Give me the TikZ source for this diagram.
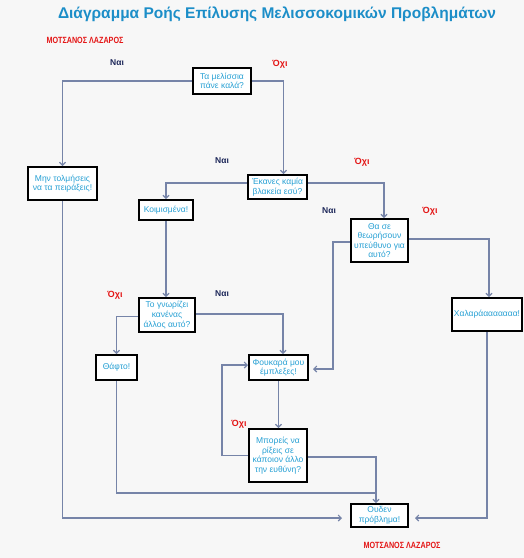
\documentclass[tikz,border=0pt]{standalone}
\usepackage{fontspec}
\setmainfont{Liberation Sans}
\usetikzlibrary{arrows.meta,positioning}
\definecolor{titlos}{RGB}{28,142,200}
\definecolor{keimeno}{RGB}{38,160,212}
\definecolor{grammi}{RGB}{118,132,168}
\definecolor{naixr}{RGB}{30,40,90}
\definecolor{oxixr}{RGB}{228,22,22}
\definecolor{fonto}{RGB}{247,247,247}
\tikzset{
  kouti/.style={draw,line width=2pt,fill=white,inner sep=1pt,align=center,
    font=\fontsize{8.5}{9.6}\selectfont,text=keimeno},
  belos/.style={draw=grammi,line width=1.1pt,-{Straight Barb[length=3pt,width=6pt]}},
  grm/.style={draw=grammi,line width=1.1pt},
  nai/.style={font=\bfseries\fontsize{8.5}{9}\selectfont,text=naixr},
  oxi/.style={font=\bfseries\fontsize{9}{10}\selectfont,text=oxixr},
  onoma/.style={font=\bfseries\fontsize{9}{10}\selectfont,text=oxixr},
}

\begin{document}
\begin{tikzpicture}[x=1pt,y=-1pt]
  \fill[fonto] (0,0) rectangle (524,558);
  \useasboundingbox (0,0) rectangle (524,558);
  % titlos kai onomata
  \node[font=\bfseries\fontsize{15.5}{17}\selectfont,text=titlos] (titl) at (277,14)
    {Διάγραμμα Ροής Επίλυσης Μελισσοκομικών Προβλημάτων};
  \node[onoma] (onA) at (85,40) {\scalebox{0.8}[1]{ΜΟΤΣΑΝΟΣ ΛΑΖΑΡΟΣ}};
  \node[onoma] (onB) at (402,545) {\scalebox{0.8}[1]{ΜΟΤΣΑΝΟΣ ΛΑΖΑΡΟΣ}};
  % kouti
  \node[kouti,minimum width=58pt,minimum height=26pt] (q1) at (222,81) {Τα μελίσσια\\πάνε καλά?};
  \node[kouti,minimum width=69pt,minimum height=33pt] (m) at (62.5,183.5) {Μην τολμήσεις\\να τα πειράξεις!};
  \node[kouti,minimum width=59pt,minimum height=24pt] (q2) at (277.5,187) {Έκανες καμία\\βλακεία εσύ?};
  \node[kouti,minimum width=54pt,minimum height=20pt] (k) at (166,210) {Κοιμισμένα!};
  \node[kouti,minimum width=57pt,minimum height=43pt] (q3) at (379.5,240.5) {Θα σε\\θεωρήσουν\\υπεύθυνο για\\αυτό?};
  \node[kouti,minimum width=56pt,minimum height=34pt] (q4) at (167,315) {Το γνωρίζει\\κανένας\\άλλος αυτό?};
  \node[kouti,minimum width=70pt,minimum height=33pt] (x) at (487,314.5) {Χαλαράααααααα!};
  \node[kouti,minimum width=41pt,minimum height=25pt] (th) at (116.5,367.5) {Θάφτο!};
  \node[kouti,minimum width=59pt,minimum height=25pt] (f) at (278.5,367.5) {Φουκαρά μου\\έμπλεξες!};
  \node[kouti,minimum width=58pt,minimum height=53pt] (q5) at (278,455.5) {Μπορείς να\\ρίξεις σε\\κάποιον άλλο\\την ευθύνη?};
  \node[kouti,minimum width=57pt,minimum height=23pt] (o) at (379.5,515.5) {Ουδεν\\πρόβλημα!};
  % etiketes
  \node[nai] (n1) at (117,63) {Ναι};
  \node[oxi] (x1) at (280,64) {Όχι};
  \node[nai] (n2) at (222,161) {Ναι};
  \node[oxi] (x2) at (362,162) {Όχι};
  \node[nai] (n3) at (329,211) {Ναι};
  \node[oxi] (x3) at (430,211) {Όχι};
  \node[oxi] (x4) at (115,295) {Όχι};
  \node[nai] (n4) at (222,294) {Ναι};
  \node[oxi] (x5) at (239,424) {Όχι};
  % gonies
  \coordinate (g1) at (333,369);
  \coordinate (g2) at (376,493);
  \coordinate (g3) at (222,365);
  % velh
  \draw[belos] (q1.west) -| (m.north);
  \draw[belos] (q1.east) -| ([xshift=6pt]q2.north);
  \draw[belos] ([yshift=4pt]q2.west) -| (k.north);
  \draw[belos] ([yshift=4pt]q2.east) -| ([xshift=4.5pt]q3.north);
  \draw[belos,shorten >=8pt] (m.south) |- ([yshift=-2.5pt]o.west);
  \draw[belos] (k.south) -- (k.south |- q4.north);
  \draw[belos,shorten >=4pt] ([yshift=-1.5pt]q3.west) -| (g1) -- ([yshift=-1.5pt]f.east);
  \draw[belos] ([yshift=1.5pt]q3.east) -| ([xshift=2pt]x.north);
  \draw[belos] ([yshift=-1.5pt]q4.west) -| (th.north);
  \draw[belos] ([yshift=1pt]q4.east) -| ([xshift=4.5pt]f.north);
  \draw[belos] (th.south) |- (g2) -- ([xshift=-3.5pt]o.north);
  \draw[belos] (f.south) -- (f.south |- q5.north);
  \draw[belos] (q5.west) -| (g3) -- ([yshift=2.5pt]f.west);
  \draw[grm] ([yshift=-1.5pt]q5.east) -| (g2);
  \draw[belos,shorten >=6pt] (x.south) |- ([yshift=-2.5pt]o.east);
\end{tikzpicture}
\end{document}
